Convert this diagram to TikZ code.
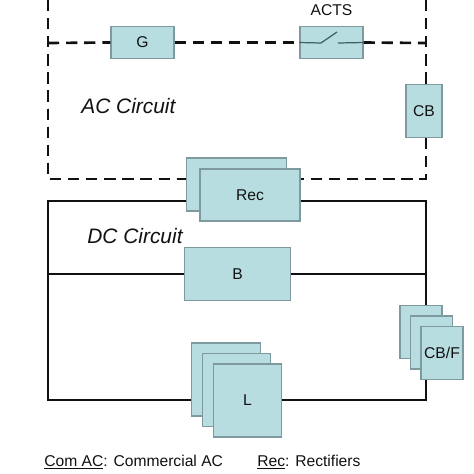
\documentclass[tikz,border=0pt]{standalone}
\usepackage{fontspec}
\setmainfont{Liberation Sans}
\usepackage{tikz}
\usepackage{xcolor}
\definecolor{ink}{HTML}{111111}
\definecolor{boxfill}{HTML}{B8DDE1}
\definecolor{boxline}{HTML}{7F9A9F}
\definecolor{swline}{HTML}{3F5F63}
\tikzset{
  unit/.style={draw=boxline,fill=boxfill,line width=0.65pt,inner sep=0pt,text=ink},
  acline/.style={ink,line width=1.5pt,dash pattern=on 6.4pt off 3.9pt},
  dcline/.style={ink,line width=0.95pt},
  swwire/.style={swline,line width=0.7pt},
  caption/.style={text=ink,inner sep=0pt,font=\fontsize{11.9}{14}\selectfont\itshape}
}
\newcommand{\unitat}[6][]{\node[unit,minimum width=#4*0.02cm,minimum height=#5*0.02cm,#1] (#2) at (#3) {#6};}
\begin{document}
\begin{tikzpicture}[x=0.02cm,y=-0.02cm,font=\fontsize{8.9}{10.5}\selectfont]
  \useasboundingbox (0,0) rectangle (474,474);
  % corners of the two circuits
  \coordinate (topl) at (48,0); \coordinate (topr) at (426,0);
  \coordinate (acl) at (48,43); \coordinate (acr) at (426,43);
  \coordinate (acbl) at (48,179); \coordinate (acbr) at (426,179);
  \coordinate (dctl) at (48,201); \coordinate (dctr) at (426,201);
  \coordinate (dcml) at (48,274); \coordinate (dcmr) at (426,274);
  \coordinate (dcbl) at (48,400); \coordinate (dcbr) at (426,400);
  % single units
  \unitat{g}{142.5,42.5}{63}{32}{G}
  \unitat{acts}{331.5,42.5}{63}{32}{}
  \unitat{cb}{424,111}{36}{53}{CB}
  \unitat{b}{237.5,274}{106}{52.5}{B}
  % stacked units, back to front
  \unitat{recback}{236.5,184.5}{100}{53}{}
  \unitat{rec}{250,195}{100}{52}{Rec}
  \foreach \n/\x/\y in {cbfback/421/332,cbfmid/431.5/342.5} \unitat{\n}{\x,\y}{42}{53}{}
  \unitat{cbf}{442,353}{42}{53}{CB/F}
  \foreach \n/\x/\y in {lback/226/379.5,lmid/236.5/390} \unitat{\n}{\x,\y}{68.5}{73}{}
  \unitat{l}{247.5,400.5}{68.5}{73}{L}
  % AC side
  \draw[acline] (topl) -- (acbl) -- (recback.west |- acbl);
  \draw[acline] (acl) -- (g.west);
  \draw[acline] (g.east) -- (acts.west);
  \draw[acline] (acts.east) -- (acr);
  \draw[acline] (topr) -- (topr |- cb.north);
  \draw[acline] (acbr |- cb.south) -- (acbr) -- (rec.east |- acbr);
  % switch inside ACTS
  \coordinate (swa) at (321,43); \coordinate (swb) at (337,32); \coordinate (swc) at (338,43);
  \draw[swwire] (acts.west) -- (swa) -- (swb);
  \draw[swwire] (swc) -- (acts.east);
  % DC side
  \draw[dcline] (recback.west |- dctl) -- (dctl) -- (dcbl) -- (lback.west |- dcbl);
  \draw[dcline] (rec.east |- dctr) -- (dctr) -- (cbfback.north -| dctr);
  \draw[dcline] (cbf.south -| dcbr) -- (dcbr) -- (l.east |- dcbr);
  \draw[dcline] (dcml) -- (b.west);
  \draw[dcline] (b.east) -- (dcmr);
  % texts
  \node[text=ink,inner sep=0pt] (actslabel) at (331.5,10.5) {ACTS};
  \node[caption,anchor=west] (accap) at (81,106) {AC Circuit};
  \node[caption,anchor=west] (dccap) at (87,236) {DC Circuit};
  \node[text=ink,inner sep=0pt,anchor=base west] (comlabel) at (44,466) {\underline{Com AC}: Commercial AC};
  \node[text=ink,inner sep=0pt,anchor=base west] (reclabel) at (257,466) {\underline{Rec}: Rectifiers};
\end{tikzpicture}
\end{document}
